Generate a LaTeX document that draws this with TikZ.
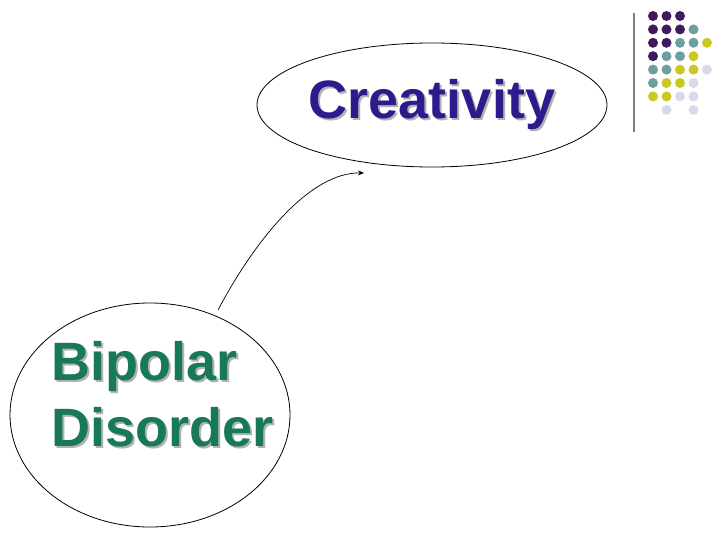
\documentclass[tikz,border=0pt]{standalone}
\usepackage{fontspec}
\setmainfont{Liberation Sans}
\usetikzlibrary{arrows.meta}
\definecolor{cP}{HTML}{3F1A5E}
\definecolor{cT}{HTML}{6F9E9E}
\definecolor{cY}{HTML}{C9C921}
\definecolor{cL}{HTML}{D9D9EC}
\definecolor{cBlue}{HTML}{2B1B8C}
\definecolor{cGreen}{HTML}{17795A}
\tikzset{dot/.style={circle,inner sep=0pt,minimum size=10pt},
 bubble/.style={ellipse,draw,line width=0.8pt},
 big/.style={font=\fontsize{54}{66}\selectfont\bfseries,inner sep=0pt}}
\usetikzlibrary{shapes.geometric}
\begin{document}
\begin{tikzpicture}[x=1pt,y=-1pt]
\useasboundingbox[fill=white] (0,0) rectangle (728,546);
% dots
\foreach \r/\row in {0/{P,P,P},1/{P,P,P,T},2/{P,P,T,T,Y},3/{P,T,T,Y},4/{T,T,Y,Y,L},5/{T,Y,Y,L},6/{Y,Y,L,L}}{
  \foreach \c [count=\i from 0] in \row {
    \node[dot,fill=c\c] at (653+13.5*\i,16+13.4*\r) {};
  }
}
\node[dot,fill=cL] at (666.5,110) {};
\node[dot,fill=cL] at (693.5,110) {};
\draw[gray,line width=1.2pt] (634,13) -- (634,132);
% ellipses
\node[bubble,minimum width=350pt,minimum height=124pt] (cre) at (432,105) {};
\node[big,text=gray!60] at (434,107) {Creativity};
\node[big,text=cBlue] (ct) at (432,105) {Creativity};
\node[bubble,minimum width=280pt,minimum height=224pt] (bip) at (150,415) {};
\node[big,text=gray!60,align=left,anchor=west] at (53,396) {Bipolar\\Disorder};
\node[big,text=cGreen,align=left,anchor=west] (bt) at (51,394) {Bipolar\\Disorder};
\coordinate (s) at (218,310);
\coordinate (e) at (364,173);
\draw[-{Stealth[length=6pt,width=5pt]},line width=0.7pt] (s) .. controls (255,240) and (310,172) .. (e);
\end{tikzpicture}
\end{document}
